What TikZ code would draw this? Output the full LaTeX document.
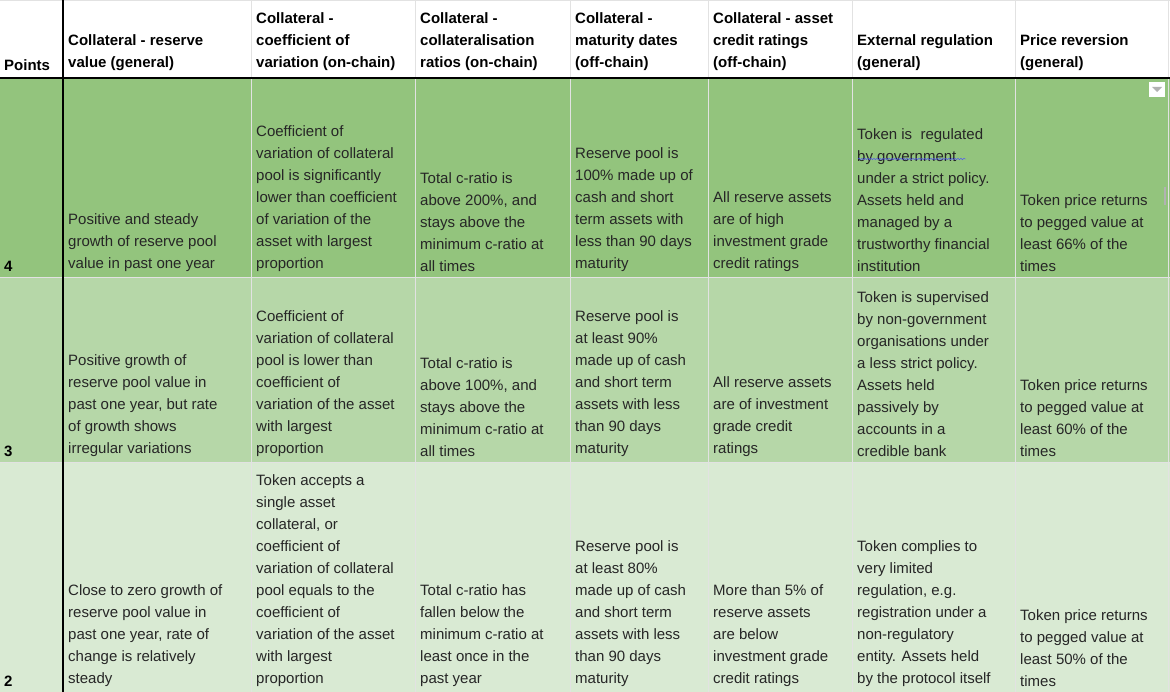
\documentclass[tikz,border=0pt]{standalone}
\usepackage{fontspec}
\setmainfont{Liberation Sans}
\usetikzlibrary{decorations.pathmorphing}
\definecolor{gA}{HTML}{93C47D}
\definecolor{gB}{HTML}{B6D7A8}
\definecolor{gC}{HTML}{D9EAD3}
\definecolor{grid}{HTML}{E2E2E2}
\begin{document}
\begin{tikzpicture}[x=1pt,y=-1pt,
  cell/.style={anchor=south west,inner sep=0pt,align=left,font=\fontsize{15}{22}\selectfont,text=black!85},
  head/.style={cell,font=\fontsize{15}{22}\selectfont\bfseries,text=black}]
\useasboundingbox (0,0) rectangle (1170,692);
\fill[white] (0,0) rectangle (1170,78);
\fill[gA] (0,78) rectangle (1170,277);
\fill[gB] (0,277) rectangle (1170,462);
\fill[gC] (0,462) rectangle (1170,692);
\foreach \x in {251,415,570,708,852,1015,1168} \draw[grid] (\x,0) -- (\x,692);
\foreach \y in {277,462} \draw[grid] (0,\y) -- (1170,\y);
\draw[grid] (0,0.5) -- (1170,0.5);
\draw[black,line width=1.2pt] (0,78) -- (1170,78);
\draw[black,line width=1.2pt] (63,0) -- (63,692);
% header
\node[head] (h0) at (4,71) {Points};
\node[head] (h1) at (68,71) {Collateral - reserve\\value (general)};
\node[head] (h2) at (256,71) {Collateral -\\coefficient of\\variation (on-chain)};
\node[head] (h3) at (420,71) {Collateral -\\collateralisation\\ratios (on-chain)};
\node[head] (h4) at (575,71) {Collateral -\\maturity dates\\(off-chain)};
\node[head] (h5) at (713,71) {Collateral - asset\\credit ratings\\(off-chain)};
\node[head] (h6) at (857,71) {External regulation\\(general)};
\node[head] (h7) at (1020,71) {Price reversion\\(general)};
% row 4
\node[head] (p4) at (4,272) {4};
\node[cell] (a1) at (68,272) {Positive and steady\\growth of reserve pool\\value in past one year};
\node[cell] (a2) at (256,272) {Coefficient of\\variation of collateral\\pool is significantly\\lower than coefficient\\of variation of the\\asset with largest\\proportion};
\node[cell] (a3) at (420,272) {Total c-ratio is\\above 200\%, and\\stays above the\\minimum c-ratio at\\all times};
\node[cell] (a4) at (575,272) {Reserve pool is\\100\% made up of\\cash and short\\term assets with\\less than 90 days\\maturity};
\node[cell] (a5) at (713,272) {All reserve assets\\are of high\\investment grade\\credit ratings};
\node[cell] (a6) at (857,272) {Token is~ regulated\\by government\\under a strict policy.\\Assets held and\\managed by a\\trustworthy financial\\institution};
\node[cell] (a7) at (1020,272) {Token price returns\\to pegged value at\\least 66\% of the\\times};
\draw[blue!70,decorate,decoration={snake,amplitude=0.8pt,segment length=3pt}] (858,159) -- (966,159);
\fill[white] (1149,82) rectangle (1165,97);
\fill[gray!60] (1152,87) -- (1162,87) -- (1157,92) -- cycle;
\fill[gray!60] (1164,187) rectangle (1166,205);
% row 3
\node[head] (p3) at (4,457) {3};
\node[cell] (b1) at (68,457) {Positive growth of\\reserve pool value in\\past one year, but rate\\of growth shows\\irregular variations};
\node[cell] (b2) at (256,457) {Coefficient of\\variation of collateral\\pool is lower than\\coefficient of\\variation of the asset\\with largest\\proportion};
\node[cell] (b3) at (420,457) {Total c-ratio is\\above 100\%, and\\stays above the\\minimum c-ratio at\\all times};
\node[cell] (b4) at (575,457) {Reserve pool is\\at least 90\%\\made up of cash\\and short term\\assets with less\\than 90 days\\maturity};
\node[cell] (b5) at (713,457) {All reserve assets\\are of investment\\grade credit\\ratings};
\node[cell] (b6) at (857,457) {Token is supervised\\by non-government\\organisations under\\a less strict policy.\\Assets held\\passively by\\accounts in a\\credible bank};
\node[cell] (b7) at (1020,457) {Token price returns\\to pegged value at\\least 60\% of the\\times};
% row 2
\node[head] (p2) at (4,687) {2};
\node[cell] (c1) at (68,687) {Close to zero growth of\\reserve pool value in\\past one year, rate of\\change is relatively\\steady};
\node[cell] (c2) at (256,687) {Token accepts a\\single asset\\collateral, or\\coefficient of\\variation of collateral\\pool equals to the\\coefficient of\\variation of the asset\\with largest\\proportion};
\node[cell] (c3) at (420,687) {Total c-ratio has\\fallen below the\\minimum c-ratio at\\least once in the\\past year};
\node[cell] (c4) at (575,687) {Reserve pool is\\at least 80\%\\made up of cash\\and short term\\assets with less\\than 90 days\\maturity};
\node[cell] (c5) at (713,687) {More than 5\% of\\reserve assets\\are below\\investment grade\\credit ratings};
\node[cell] (c6) at (857,687) {Token complies to\\very limited\\regulation, e.g.\\registration under a\\non-regulatory\\entity. Assets held\\by the protocol itself};
\node[cell] (c7) at (1020,687) {Token price returns\\to pegged value at\\least 50\% of the\\times};
\end{tikzpicture}
\end{document}
